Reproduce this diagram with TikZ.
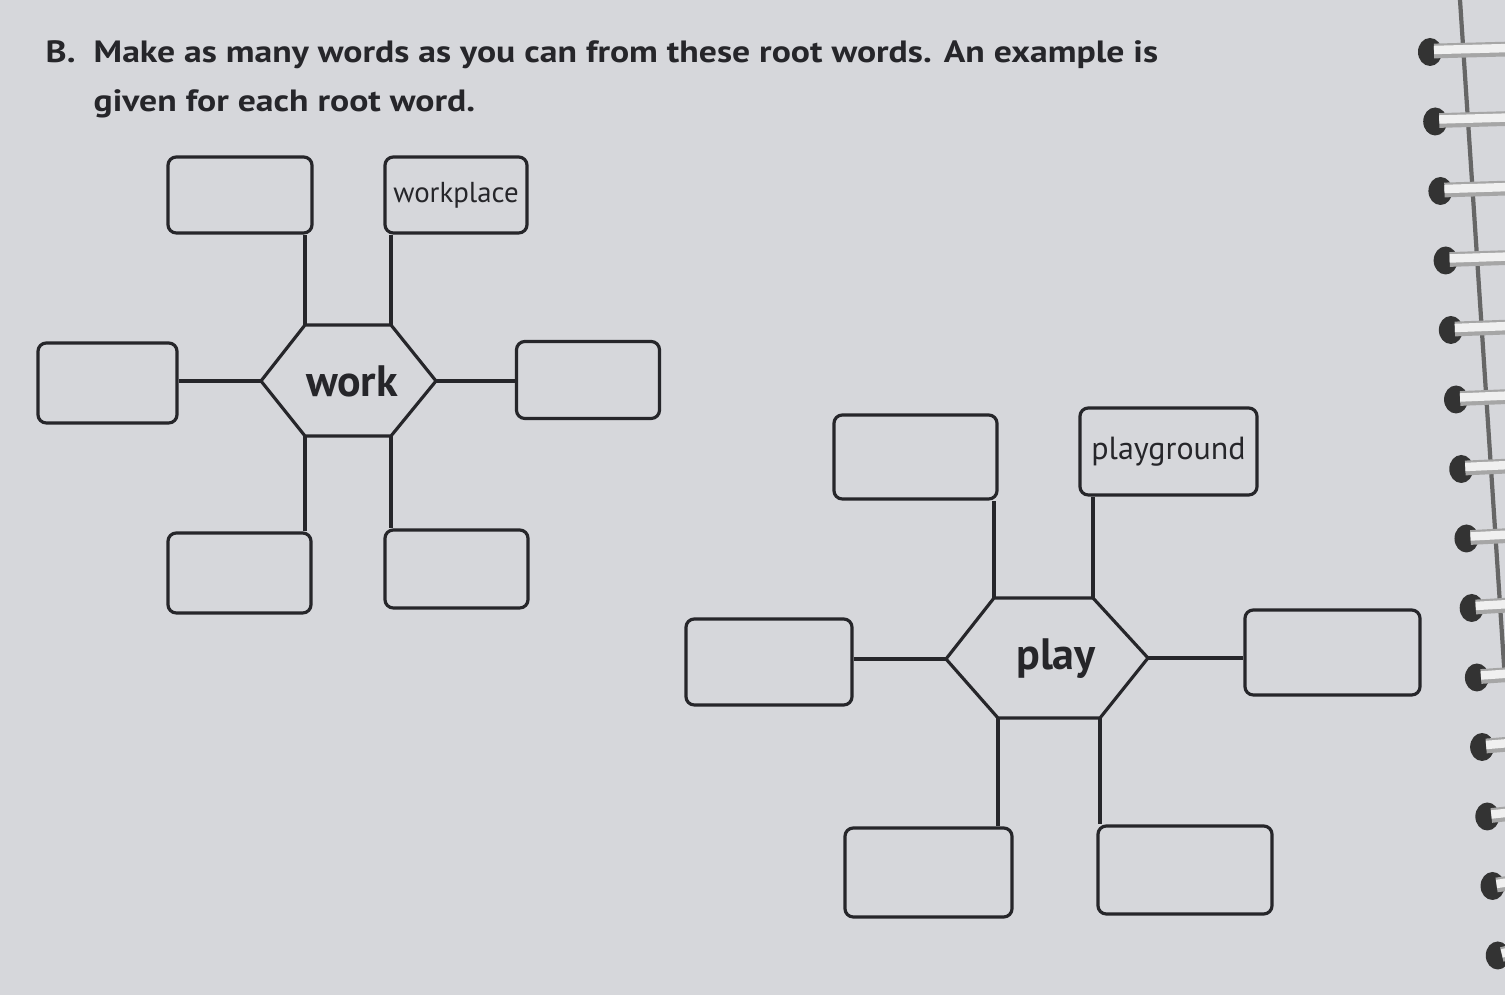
\documentclass[tikz,border=0pt]{standalone}
\usepackage{fontspec}
\setmainfont{PT Sans}
\newfontfamily\headfont[FakeStretch=1.16]{PT Sans}
\usetikzlibrary{calc}

\definecolor{paper}{RGB}{214,215,219}
\definecolor{ink}{RGB}{38,38,42}

\tikzset{
  wordbox/.style={draw=ink, line width=0.9pt, rounded corners=2.4pt, inner sep=0pt,
    text=ink, font=\fontsize{8.8}{10}\selectfont},
  link/.style={draw=ink, line width=0.9pt},
  rootword/.style={text=ink, inner sep=0pt, anchor=base, font=\bfseries\fontsize{12.5}{14}\selectfont},
  heading/.style={text=ink, inner sep=0pt, anchor=base west, font=\headfont\bfseries\fontsize{8.75}{10}\selectfont},
}

\begin{document}
\begin{tikzpicture}[x=0.01cm,y=-0.01cm]
    \fill[paper] (0,0) rectangle (1505,995);
    \useasboundingbox (0,0) rectangle (1505,995);

    % heading
    \node[heading] (hB) at (45,63) {B.};
    \node[heading] (h1) at (93,63) {Make as many words as you can from these root words. An example is};
    \node[heading] (h2) at (93,112) {given for each root word.};

    % work
    \node[wordbox, minimum width=1.44cm, minimum height=0.76cm] (wtl) at (240,195) {};
    \node[wordbox, minimum width=1.42cm, minimum height=0.76cm, font=\fontsize{8.2}{10}\selectfont] (wtr) at (456,195) {workplace};
    \node[wordbox, minimum width=1.39cm, minimum height=0.80cm] (wl) at (107.5,383) {};
    \node[wordbox, minimum width=1.43cm, minimum height=0.77cm] (wr) at (588,380) {};
    \node[wordbox, minimum width=1.43cm, minimum height=0.80cm] (wbl) at (239.5,573) {};
    \node[wordbox, minimum width=1.43cm, minimum height=0.78cm] (wbr) at (456.5,569) {};

    \coordinate (wh1) at (305,325);
    \coordinate (wh2) at (391,325);
    \coordinate (wh3) at (436,381);
    \coordinate (wh4) at (391,436);
    \coordinate (wh5) at (305,436);
    \coordinate (wh6) at (261,381);
    \draw[link] (wh1) -- (wh2) -- (wh3) -- (wh4) -- (wh5) -- (wh6) -- cycle;
    \node[rootword] (wroot) at (352,397) {work};

    \draw[link] (wh1) -- (wh1 |- wtl.south);
    \draw[link] (wh2) -- (wh2 |- wtr.south);
    \draw[link] (wh6) -- (wh6 -| wl.east);
    \draw[link] (wh3) -- (wh3 -| wr.west);
    \draw[link] (wh5) -- (wh5 |- wbl.north);
    \draw[link] (wh4) -- (wh4 |- wbr.north);

    % play
    \node[wordbox, minimum width=1.63cm, minimum height=0.84cm] (ptl) at (915.5,457) {};
    \node[wordbox, minimum width=1.77cm, minimum height=0.87cm, font=\fontsize{9.1}{10}\selectfont] (ptr) at (1168.5,451.5) {playground};
    \node[wordbox, minimum width=1.66cm, minimum height=0.86cm] (pl) at (769,662) {};
    \node[wordbox, minimum width=1.75cm, minimum height=0.85cm] (pr) at (1332.5,652.5) {};
    \node[wordbox, minimum width=1.67cm, minimum height=0.89cm] (pbl) at (928.5,872.5) {};
    \node[wordbox, minimum width=1.74cm, minimum height=0.88cm] (pbr) at (1185,870) {};

    \coordinate (ph1) at (994,598);
    \coordinate (ph2) at (1093,598);
    \coordinate (ph3) at (1148,658);
    \coordinate (ph4) at (1100,718);
    \coordinate (ph5) at (998,718);
    \coordinate (ph6) at (946,659);
    \draw[link] (ph1) -- (ph2) -- (ph3) -- (ph4) -- (ph5) -- (ph6) -- cycle;
    \node[rootword] (proot) at (1056,670) {play};

    \draw[link] (ph1) -- (ph1 |- ptl.south);
    \draw[link] (ph2) -- (ph2 |- ptr.south);
    \draw[link] (ph6) -- (ph6 -| pl.east);
    \draw[link] (ph3) -- (ph3 -| pr.west);
    \draw[link] (ph5) -- (ph5 |- pbl.north);
    \draw[link] (ph4) -- (ph4 |- pbr.north);

    % spiral binding
    \draw[black!60, line width=1.2pt] (1460,0) -- (1505,680);
    \foreach \k in {0,...,13} {
        \pgfmathsetmacro{\hy}{52+69.5*\k}
        \pgfmathsetmacro{\hx}{1430+0.075*(\hy-52)}
        \fill[black!80] (\hx,\hy) ellipse (12 and 14);
        \draw[gray!70, line width=4.2pt] (\hx+4,\hy-1) -- (1510,\hy-3);
        \draw[gray!12, line width=2.4pt] (\hx+4,\hy-2) -- (1510,\hy-4);
    }
\end{tikzpicture}
\end{document}
